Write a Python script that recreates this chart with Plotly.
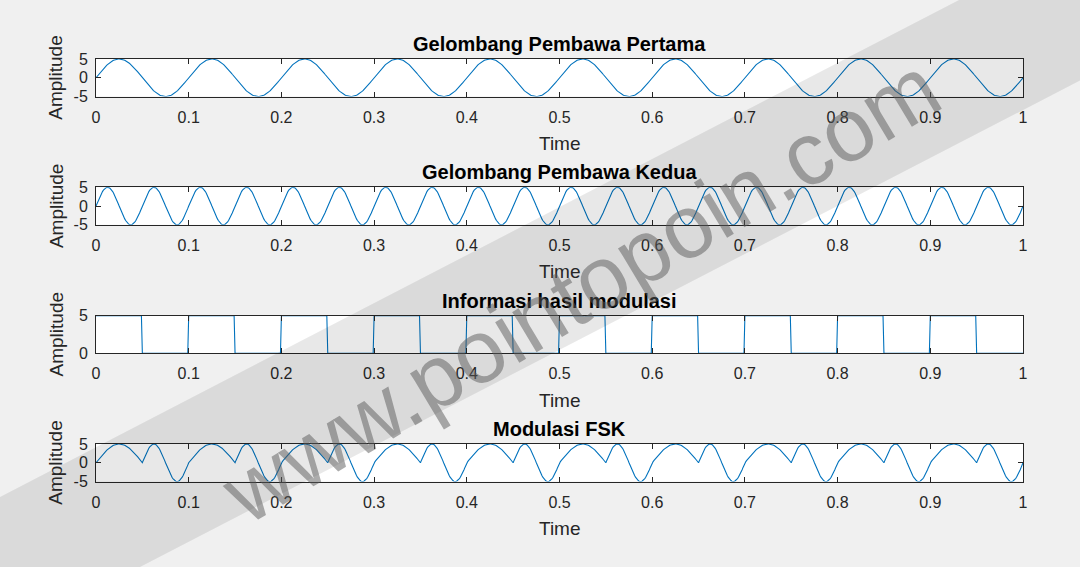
import numpy as np
import plotly.graph_objects as go

# ---- data ----
amplitude = 5                      # peak amplitude of both carriers
carrier1_freq = 10                 # Hz, "Gelombang Pembawa Pertama"
carrier2_freq = 20                 # Hz, "Gelombang Pembawa Kedua"
bit_duration = 0.05                # s per bit
bits = [1, 0, 1, 0, 1, 0, 1, 0, 1, 0, 1, 0, 1, 0, 1, 0, 1, 0, 1, 0]
sample_step = 0.001

titles = ["Gelombang Pembawa Pertama", "Gelombang Pembawa Kedua",
          "Informasi hasil modulasi", "Modulasi FSK"]
x_ticks = [0, 0.1, 0.2, 0.3, 0.4, 0.5, 0.6, 0.7, 0.8, 0.9, 1]
x_tick_labels = ["0", "0.1", "0.2", "0.3", "0.4", "0.5", "0.6", "0.7", "0.8", "0.9", "1"]
y_ticks_wave = [-5, 0, 5]
y_ticks_info = [0, 5]
watermark = "www.pointopoin.com"

# ---- signals ----
t = np.round(np.arange(0, 1 + sample_step / 2, sample_step), 6)
idx = np.minimum((t / bit_duration + 1e-9).astype(int), len(bits) - 1)
bit_signal = np.array(bits)[idx]
carrier1 = amplitude * np.sin(2 * np.pi * carrier1_freq * t)
carrier2 = amplitude * np.sin(2 * np.pi * carrier2_freq * t)
info = amplitude * bit_signal
fsk = np.where(bit_signal == 1, carrier1, carrier2)
signals = [carrier1, carrier2, info, fsk]

# ---- layout geometry (pixels) ----
W, H = 1080, 567
x0px, x1px = 96, 1023
tops = [59, 187.3, 315.7, 444]
hpx = 37.5

def py(p):
    return 1 - p / H

fig = go.Figure()
line_col = "#0072BD"
axcol = "#262626"
font_family = "Liberation Sans, Arial, Helvetica, sans-serif"

annotations = []
for k in range(4):
    xa = "x" if k == 0 else f"x{k+1}"
    ya = "y" if k == 0 else f"y{k+1}"
    fig.add_trace(go.Scatter(x=t, y=signals[k], mode="lines",
                             line=dict(color=line_col, width=1.1),
                             xaxis=xa, yaxis=ya, showlegend=False,
                             hoverinfo="skip"))
    top, bot = tops[k], tops[k] + hpx
    xkey = "xaxis" if k == 0 else f"xaxis{k+1}"
    ykey = "yaxis" if k == 0 else f"yaxis{k+1}"
    axis_common = dict(showline=True, mirror="allticks", linecolor=axcol,
                       linewidth=1, ticks="inside", ticklen=5, tickwidth=1,
                       tickcolor=axcol, showgrid=False, zeroline=False,
                       tickfont=dict(family=font_family, size=16, color=axcol),
                       automargin=False)
    fig.update_layout(**{
        xkey: dict(domain=[x0px / W, x1px / W], range=[0, 1],
                   tickvals=x_ticks, ticktext=x_tick_labels,
                   anchor=ya, ticklabelstandoff=6,
                   **axis_common),
        ykey: dict(domain=[py(bot), py(top)],
                   range=[-5, 5] if k != 2 else [0, 5],
                   tickvals=y_ticks_wave if k != 2 else y_ticks_info,
                   ticktext=[str(v) for v in (y_ticks_wave if k != 2 else y_ticks_info)],
                   anchor=xa, ticklabelstandoff=4,
                   **axis_common),
    })
    # title
    annotations.append(dict(text=f"<b>{titles[k]}</b>", xref="paper", yref="paper",
                            x=(x0px + x1px) / 2 / W, y=py(top - 2),
                            xanchor="center", yanchor="bottom", showarrow=False,
                            font=dict(family=font_family, size=20, color="#000000")))
    # x label
    annotations.append(dict(text="Time", xref="paper", yref="paper",
                            x=(x0px + x1px) / 2 / W, y=py(bot + 47),
                            xanchor="center", yanchor="middle", showarrow=False,
                            font=dict(family=font_family, size=19, color=axcol)))
    # y label
    annotations.append(dict(text="Amplitude", xref="paper", yref="paper",
                            x=56 / W, y=py((top + bot) / 2), textangle=-90,
                            xanchor="center", yanchor="middle", showarrow=False,
                            font=dict(family=font_family, size=19, color=axcol)))

# watermark text
annotations.append(dict(text=watermark, xref="paper", yref="paper",
                        x=580 / W, y=py(290), textangle=-31,
                        xanchor="center", yanchor="middle", showarrow=False,
                        font=dict(family=font_family, size=89,
                                  color="rgba(90,90,90,0.5)")))

# watermark diagonal band
band_pts = [(0, 497), (959, 0), (1080, 0), (1080, 80.5), (140, 567), (0, 567)]
path = "M " + " L ".join(f"{x / W:.5f},{py(y):.5f}" for x, y in band_pts) + " Z"

fig.update_layout(
    width=W, height=H,
    margin=dict(l=0, r=0, t=0, b=0),
    paper_bgcolor="#f0f0f0",
    plot_bgcolor="#ffffff",
    annotations=annotations,
    shapes=[dict(type="path", path=path, xref="paper", yref="paper",
                 fillcolor="rgba(0,0,0,0.09)", line=dict(width=0),
                 layer="above")],
    showlegend=False,
)

fig.write_html("out.html",
               config={"displayModeBar": False},
               post_script="document.body.style.margin='0';"
                           "document.body.style.background='#f0f0f0';"
                           "document.body.style.overflow='hidden';")
